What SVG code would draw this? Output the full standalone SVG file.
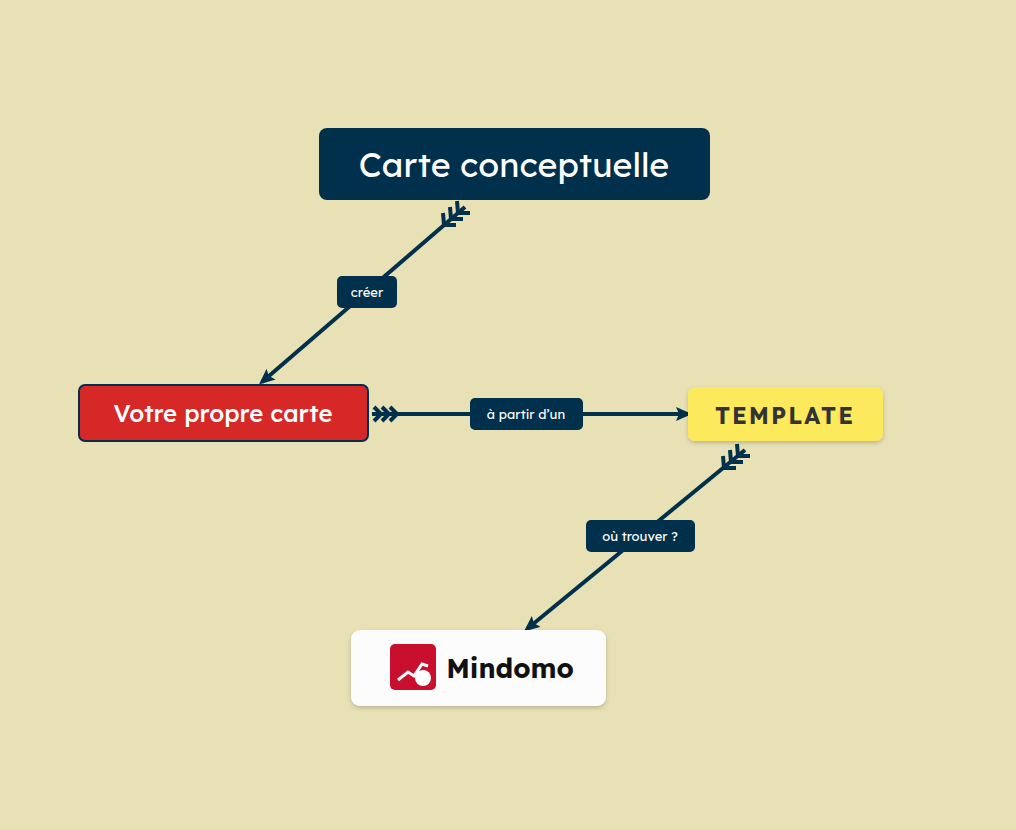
<svg xmlns="http://www.w3.org/2000/svg" width="1016" height="830" viewBox="0 0 1016 830">
<style>
.ln{stroke:#00304b;stroke-width:4;fill:none}
.lbl{fill:#00304b}
.lt{font-family:Lexend,"Noto Sans",sans-serif;font-size:13px;fill:#fff;text-anchor:middle}
.nt{font-family:Lexend,"Noto Sans",sans-serif;text-anchor:middle}
</style>
<defs>
<marker id="ah" markerWidth="16" markerHeight="14" refX="12" refY="7" orient="auto" markerUnits="userSpaceOnUse"><path d="M0,0 L16,7 L0,14 L3,7 Z" fill="#00304b"/></marker>
<filter id="sh" x="-10%" y="-10%" width="120%" height="130%"><feDropShadow dx="0" dy="2" stdDeviation="2" flood-opacity="0.2"/></filter>
</defs>
<rect width="1016" height="830" fill="#e8e1b6"/>
<g id="connectors">
<path class="ln" d="M465,207 L262,382" marker-end="url(#ah)"/>
<path class="ln" d="M458,213 l12,0 M458,213 l-1,-12 M451,219 l12,0 M451,219 l-1,-12 M444,225 l12,0 M444,225 l-1,-12" stroke-width="3.5"/>
<path class="ln" d="M372,414 L688,414" marker-end="url(#ah)" stroke-width="3.5"/>
<path class="ln" d="M374,407 l7,7 l-7,7 M382,407 l7,7 l-7,7 M390,407 l7,7 l-7,7" stroke-width="3.5"/>
<path class="ln" d="M745,450 L527,629" marker-end="url(#ah)"/>
<path class="ln" d="M738,456 l12,0 M738,456 l-1,-12 M731,462 l12,0 M731,462 l-1,-12 M724,468 l12,0 M724,468 l-1,-12" stroke-width="3.5"/>
<rect class="lbl" x="337" y="276" width="60" height="32" rx="5"/>
<text class="lt" x="367" y="297">créer</text>
<rect class="lbl" x="470" y="398" width="113" height="32" rx="5"/>
<text class="lt" x="526" y="419">à partir d’un</text>
<rect class="lbl" x="586" y="520" width="109" height="32" rx="5"/>
<text class="lt" x="640" y="541">où trouver ?</text>
</g>
<g id="n1"><rect x="319" y="128" width="391" height="72" rx="8" fill="#00304b"/><text class="nt" x="514" y="177" font-size="34" fill="#fff">Carte conceptuelle</text></g>
<g id="n2"><rect x="79" y="385" width="289" height="56" rx="6" fill="#d72828" stroke="#00304b" stroke-width="2"/><text class="nt" x="223" y="422" font-size="24" font-weight="500" fill="#fff">Votre propre carte</text></g>
<g id="n3"><rect x="688" y="387" width="195" height="54" rx="7" fill="#fde95c" filter="url(#sh)"/><text class="nt" x="785" y="424" font-size="23" font-weight="bold" fill="#333" letter-spacing="2">TEMPLATE</text></g>
<g id="n4"><rect x="351" y="630" width="255" height="76" rx="9" fill="#fcfcfc" filter="url(#sh)"/>
<rect x="390" y="644" width="46" height="46" rx="5" fill="#c8102e"/>
<circle cx="423" cy="678" r="8" fill="#fff"/><path d="M398,680 l10,-8 l6,4 l8,-12 l6,2" stroke="#fff" stroke-width="3" fill="none"/>
<text class="nt" x="510" y="678" font-size="27" font-weight="bold" fill="#111">Mindomo</text></g>
</svg>
